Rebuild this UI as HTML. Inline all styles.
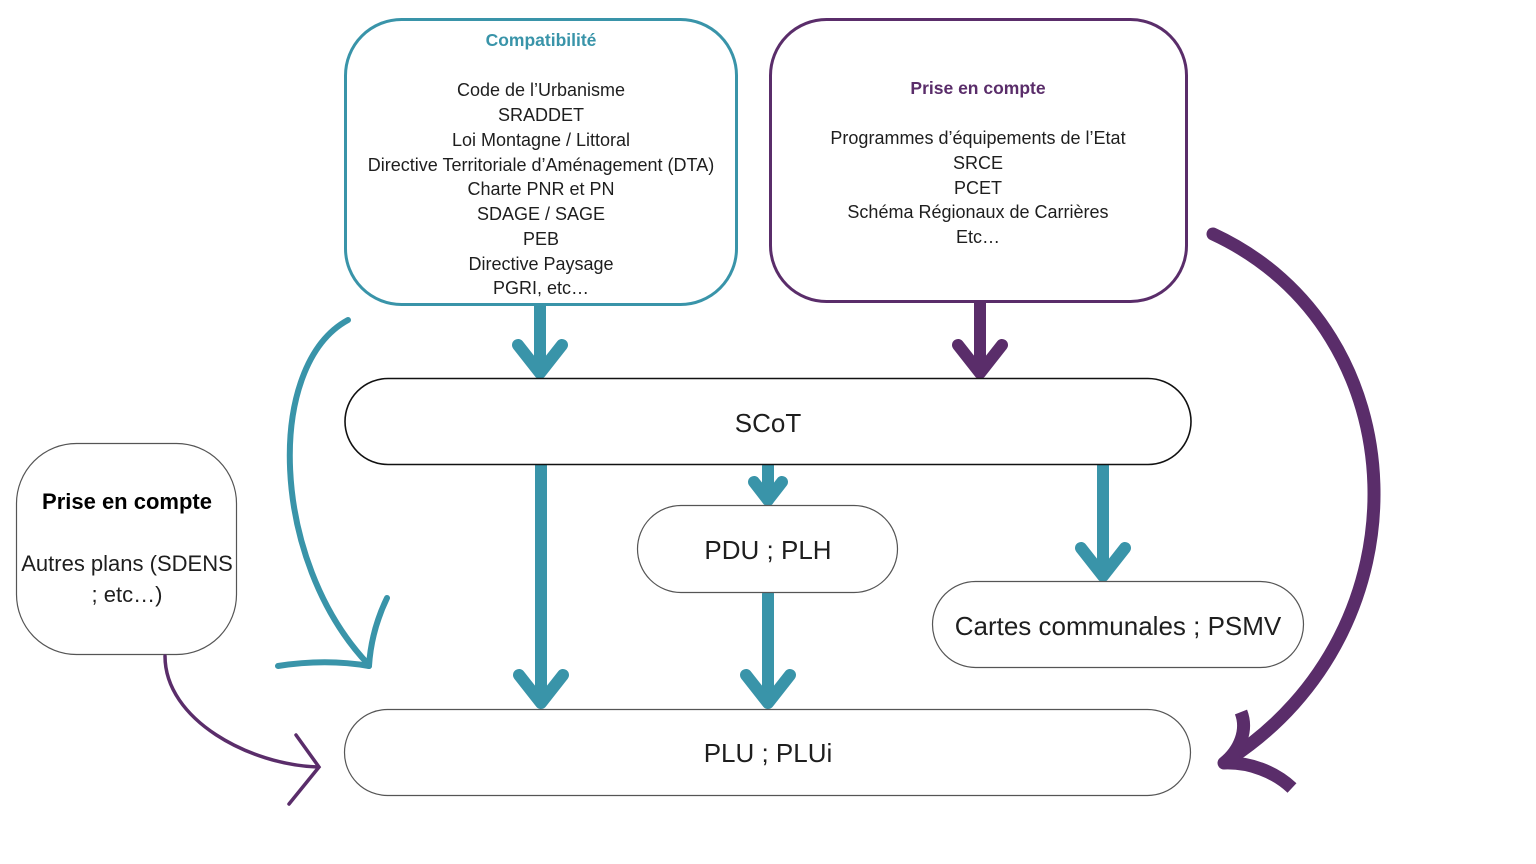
<!DOCTYPE html>
<html><head><meta charset="utf-8"><style>
html,body{margin:0;padding:0;background:#fff;width:1536px;height:864px;overflow:hidden}
text{font-family:"Liberation Sans",sans-serif;fill:#1e1e1e}
</style></head><body>
<svg width="1536" height="864" viewBox="0 0 1536 864" xmlns="http://www.w3.org/2000/svg">
<g stroke="#3994a9" stroke-width="12" fill="none" stroke-linecap="round" stroke-linejoin="round">
<line x1="540" y1="306" x2="540" y2="372"/><polyline points="518,345 540,373 562,345"/>
<line x1="541" y1="466" x2="541" y2="702"/><polyline points="519,675 541,703 563,675"/>
<line x1="768" y1="466" x2="768" y2="500"/><polyline points="754,482 768,500 782,482"/>
<line x1="768" y1="594" x2="768" y2="702"/><polyline points="746,675 768,703 790,675"/>
<line x1="1103" y1="466" x2="1103" y2="575"/><polyline points="1081,548 1103,576 1125,548"/>
</g>
<g stroke="#5a2d6a" stroke-width="12" fill="none" stroke-linecap="round" stroke-linejoin="round">
<line x1="980" y1="303" x2="980" y2="372"/><polyline points="958,345 980,373 1002,345"/>
</g>
<g fill="#fff">
<rect x="345.5" y="19.5" width="391" height="285" rx="56" stroke="#3994a9" stroke-width="3"/>
<rect x="770.5" y="19.5" width="416" height="282" rx="56" stroke="#5a2d6a" stroke-width="3"/>
<rect x="345" y="378.5" width="846" height="86" rx="43" stroke="#111" stroke-width="1.6"/>
<rect x="637.5" y="505.5" width="260" height="87" rx="43.5" stroke="#555" stroke-width="1.2"/>
<rect x="932.5" y="581.5" width="371" height="86" rx="43" stroke="#555" stroke-width="1.2"/>
<rect x="344.5" y="709.5" width="846" height="86" rx="43" stroke="#555" stroke-width="1.2"/>
<rect x="16.5" y="443.5" width="220" height="211" rx="60" stroke="#555" stroke-width="1.2"/>
</g>
<g stroke="#3994a9" stroke-width="6" fill="none" stroke-linecap="round">
<path d="M348 320 C 265 365, 270 560, 368 664"/>
<path d="M387 598 C 374 625, 370 650, 369 666"/>
<path d="M278 666 C 310 661, 340 661, 369 666"/>
</g>
<g stroke="#5a2d6a" fill="none" stroke-linecap="round">
<path d="M165 656 C 165 720, 250 765, 318 767" stroke-width="3.5"/>
<path d="M296 735 L319 767 L289 804" stroke-width="3.5"/>
<path d="M1213 234 C 1420 330, 1430 630, 1228 760" stroke-width="13"/>
<path d="M1241 712 C 1248 730, 1240 750, 1224 763 C 1250 762, 1275 772, 1292 788" stroke-width="13" stroke-linecap="butt" stroke-linejoin="round"/>
</g>
<g text-anchor="middle" font-size="18">
<text x="541" y="46" font-weight="bold" font-size="17.5" style="fill:#3994a9">Compatibilité</text>
<text x="541" y="96">Code de l’Urbanisme</text>
<text x="541" y="121">SRADDET</text>
<text x="541" y="146">Loi Montagne / Littoral</text>
<text x="541" y="171">Directive Territoriale d’Aménagement (DTA)</text>
<text x="541" y="195">Charte PNR et PN</text>
<text x="541" y="220">SDAGE / SAGE</text>
<text x="541" y="245">PEB</text>
<text x="541" y="270">Directive Paysage</text>
<text x="541" y="294">PGRI, etc…</text>
<text x="978" y="94" font-weight="bold" font-size="17.5" style="fill:#5a2d6a">Prise en compte</text>
<text x="978" y="144">Programmes d’équipements de l’Etat</text>
<text x="978" y="169">SRCE</text>
<text x="978" y="194">PCET</text>
<text x="978" y="218">Schéma Régionaux de Carrières</text>
<text x="978" y="243">Etc…</text>
<text x="768" y="432" font-size="26">SCoT</text>
<text x="768" y="559" font-size="26">PDU ; PLH</text>
<text x="1118" y="635" font-size="26">Cartes communales ; PSMV</text>
<text x="768" y="762" font-size="26">PLU ; PLUi</text>
<text x="127" y="509" font-size="22" font-weight="bold" style="fill:#000">Prise en compte</text>
<text x="127" y="571" font-size="22">Autres plans (SDENS</text>
<text x="127" y="602" font-size="22">; etc…)</text>
</g>
</svg>
</body></html>
